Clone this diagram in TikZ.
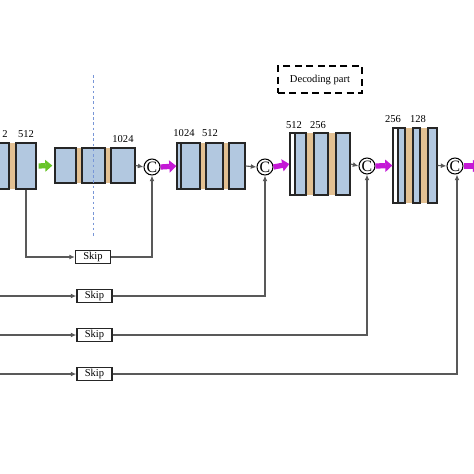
\documentclass[tikz,border=0pt]{standalone}
\usepackage{fontspec}
\setmainfont{Liberation Serif}
\usetikzlibrary{arrows.meta}

\definecolor{blockblue}{RGB}{178,200,224}
\definecolor{striptan}{RGB}{226,192,146}
\definecolor{catpink}{RGB}{196,24,214}
\definecolor{upgreen}{RGB}{104,196,40}
\definecolor{splitblue}{RGB}{120,150,215}
\def\pu{0.02cm}

\tikzset{
  blk/.style={draw=black!85, fill=blockblue, line width=0.75pt, inner sep=0pt},
  backblk/.style={blk, fill=white},
  catnode/.style={circle, draw=black, line width=0.6pt, fill=white, inner sep=0pt,
    minimum size=16*\pu, font=\fontsize{9}{9}\selectfont},
  skipbox/.style={draw=black!85, line width=0.7pt, fill=white, inner sep=0pt,
    minimum width=35*\pu, minimum height=13*\pu, font=\fontsize{6}{7}\selectfont},
  chan/.style={font=\fontsize{6}{7}\selectfont, inner sep=0pt},
  link/.style={draw=black!65, line width=0.65pt},
  tip/.style={-{Latex[length=3.2pt,width=2.8pt]}},
  fatpink/.style={draw=catpink, line width=3pt, -{Triangle[length=4pt,width=6.8pt]}},
  fatgreen/.style={draw=upgreen, line width=3pt, -{Triangle[length=4pt,width=6.5pt]}},
}

\begin{document}
\begin{tikzpicture}[x=0.02cm, y=-0.02cm]
\useasboundingbox (0,0) rectangle (474,474);
\clip (0,0) rectangle (474,474);

% tan strips between the blocks
\foreach \xa/\xb/\ya/\yb in {9/16/143/189, 76/82/148/183, 105/111/148/183,
  200/206/143/189, 223/229/143/189, 306/314/133/195, 328/336/133/195,
  405/413/128/203, 420/428/128/203}
  \fill[striptan] (\xa,\ya) rectangle (\xb,\yb);

% stacked backs of the first decoder blocks
\foreach \n/\xa/\xb/\ya/\yb/\s in {C0/177/200/143/189/blk, D0/290/306/133/195/backblk, E0/393/405/128/203/backblk}
  \node[\s, minimum width=(\xb-\xa)*\pu, minimum height=(\yb-\ya)*\pu] (\n) at ({(\xa+\xb)/2},{(\ya+\yb)/2}) {};

% the blocks
\foreach \n/\xa/\xb/\ya/\yb in {A1/-5/9/143/189, A2/16/36/143/189,
  B1/55/76/148/183, B2/82/105/148/183, B3/111/135/148/183,
  C1/181/200/143/189, C2/206/223/143/189, C3/229/245/143/189,
  D1/295/306/133/195, D2/314/328/133/195, D3/336/350/133/195,
  E1/398/405/128/203, E2/413/420/128/203, E3/428/437/128/203}
  \node[blk, minimum width=(\xb-\xa)*\pu, minimum height=(\yb-\ya)*\pu] (\n) at ({(\xa+\xb)/2},{(\ya+\yb)/2}) {};

% channel numbers
\node[chan] (n1) at (5,134) {2};
\node[chan] (n2) at (26,134) {512};
\node[chan] (n3) at (123,139) {1024};
\node[chan] (n4) at (184,133) {1024};
\node[chan] (n5) at (210,133) {512};
\node[chan] (n6) at (294,125) {512};
\node[chan] (n7) at (318,125) {256};
\node[chan] (n8) at (393,119) {256};
\node[chan] (n9) at (418,119) {128};

% concatenation nodes
\node[catnode] (c1) at (152,167) {C};
\node[catnode] (c2) at (265,167) {C};
\node[catnode] (c3) at (367,166) {C};
\node[catnode] (c4) at (455,166) {C};
\coordinate (out) at (480,166);

\draw[fatgreen, shorten <=2*\pu, shorten >=2*\pu] (A2.east) -- (B1.west);
\draw[fatpink] (c1.east) -- (C0.west);
\draw[fatpink] (c2.east) -- (D0.west);
\draw[fatpink] (c3.east) -- (E0.west);
\draw[fatpink] (c4.east) -- (out);

\draw[link, tip] (B3.east) -- (c1.west);
\draw[link, tip] (C3.east) -- (c2.west);
\draw[link, tip] (D3.east) -- (c3.west);
\draw[link, tip] (E3.east) -- (c4.west);

% skip connections
\node[skipbox] (s1) at (93,257) {Skip};
\node[skipbox] (s2) at (94.5,296) {Skip};
\node[skipbox] (s3) at (94.5,335) {Skip};
\node[skipbox] (s4) at (94.5,374) {Skip};
\coordinate (e2) at (-2,296);
\coordinate (e3) at (-2,335);
\coordinate (e4) at (-2,374);

\draw[link, tip] (A2.south) |- (s1.west);
\draw[link, tip] (e2) -- (s2.west);
\draw[link, tip] (e3) -- (s3.west);
\draw[link, tip] (e4) -- (s4.west);
\draw[link, tip] (s1.east) -| (c1.south);
\draw[link, tip] (s2.east) -| (c2.south);
\draw[link, tip] (s3.east) -| (c3.south);
\draw[link, tip] (s4.east) -| ([xshift=2*\pu]c4.south);

% split line
\draw[splitblue, line width=0.5pt, dash pattern=on 1.5pt off 1.5pt] (93,75) -- (93,237);

% legend
\node[draw=black, line width=1.2pt, dash pattern=on 4pt off 2.5pt, minimum width=84*\pu,
  minimum height=27*\pu, inner sep=0pt, font=\fontsize{6}{7}\selectfont] (dec) at (320,79.5) {Decoding part};
\end{tikzpicture}
\end{document}
